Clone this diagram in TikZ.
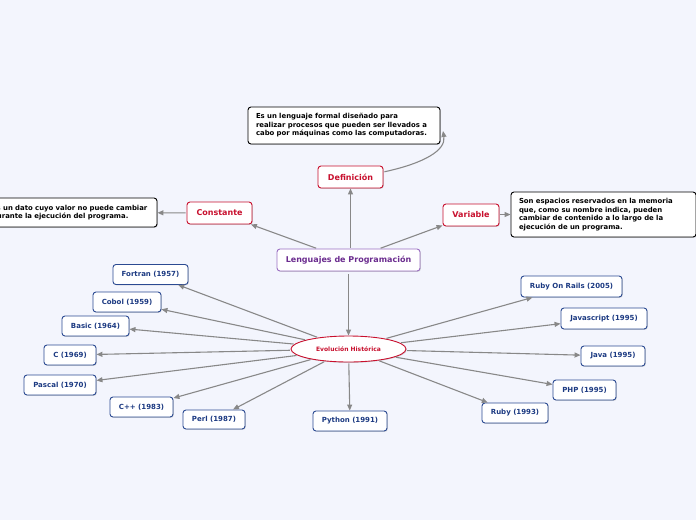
\documentclass[tikz,border=0pt]{standalone}
\usepackage{fontspec}
\setmainfont{DejaVu Sans}
\usetikzlibrary{arrows.meta,shapes.geometric,shadows}
\definecolor{bgc}{HTML}{F3F5FD}
\definecolor{redc}{HTML}{C8102E}
\definecolor{purc}{HTML}{6B2C8F}
\definecolor{purb}{HTML}{9B6FC2}
\definecolor{bluc}{HTML}{1C3A82}
\definecolor{blub}{HTML}{2B4A92}
\definecolor{linec}{HTML}{888888}
\tikzset{
  base/.style={draw, fill=white, rounded corners=3pt, line width=0.9pt, inner sep=0pt,
    drop shadow={shadow xshift=0.8pt, shadow yshift=-0.8pt, opacity=0.35}},
  item/.style={base, draw=blub, text=bluc, font=\bfseries\fontsize{7}{8}\selectfont, minimum height=20pt},
  topic/.style={base, draw=redc, text=redc, font=\bfseries\fontsize{8}{10}\selectfont, minimum height=22pt},
  central/.style={base, draw=purb, text=purc, font=\bfseries\fontsize{8}{10}\selectfont, minimum height=22pt},
  note/.style={base, draw=black, text=black, font=\bfseries\fontsize{6.9}{8.5}\selectfont, align=left, inner xsep=8pt},
  evo/.style={ellipse, draw=redc, fill=white, line width=0.9pt, text=redc, inner sep=0pt,
    font=\bfseries\fontsize{6}{7}\selectfont, minimum width=115pt, minimum height=26pt,
    drop shadow={shadow xshift=0.8pt, shadow yshift=-0.8pt, opacity=0.35}},
  conn/.style={draw=linec, line width=1.1pt, -{Triangle[length=6pt,width=5pt]}, shorten <=1pt},
}
\begin{document}
\begin{tikzpicture}[x=1pt,y=-1pt]
\useasboundingbox[fill=bgc] (0,0) rectangle (696,520);

\node[central, minimum width=143pt] (len) at (348.5,260) {Lenguajes de Programación};
\node[topic, minimum width=65pt] (def) at (350.5,177) {Definición};
\node[topic, minimum width=65pt] (con) at (219.5,213) {Constante};
\node[topic, minimum width=56pt] (var) at (471,215) {Variable};

\node[note, minimum width=192pt, minimum height=37pt, text width=176pt] (deft) at (344,125.5)
  {Es un lenguaje formal diseñado para\\realizar procesos que pueden ser llevados a\\cabo por máquinas como las computadoras.};
\node[note, minimum width=185pt, minimum height=45pt, text width=169pt] (vart) at (603.5,214.5)
  {Son espacios reservados en la memoria\\que, como su nombre indica, pueden\\cambiar de contenido a lo largo de la\\ejecución de un programa.};
\node[note, minimum width=173pt, minimum height=29pt, text width=157pt] (cont) at (70.5,212.5)
  {Es un dato cuyo valor no puede cambiar\\durante la ejecución del programa.};

\node[evo] (evo) at (348.5,349) {Evolución Histórica};

\node[item, minimum width=75pt] (fortran) at (150.5,274.5) {Fortran (1957)};
\node[item, minimum width=68pt] (cobol) at (127,302) {Cobol (1959)};
\node[item, minimum width=67pt] (basic) at (95.5,326) {Basic (1964)};
\node[item, minimum width=52pt] (c) at (70,355) {C (1969)};
\node[item, minimum width=72pt] (pascal) at (60,385) {Pascal (1970)};
\node[item, minimum width=63pt] (cpp) at (141.5,407) {C++ (1983)};
\node[item, minimum width=62pt, minimum height=19pt] (perl) at (214,419.5) {Perl (1987)};
\node[item, minimum width=74pt] (python) at (350,421) {Python (1991)};
\node[item, minimum width=66pt] (ruby) at (515,413) {Ruby (1993)};
\node[item, minimum width=63pt] (php) at (584.5,390) {PHP (1995)};
\node[item, minimum width=64pt] (java) at (613,356) {Java (1995)};
\node[item, minimum width=86pt, minimum height=21pt] (js) at (604,318.5) {Javascript (1995)};
\node[item, minimum width=101pt, minimum height=21pt] (ror) at (571.5,286.5) {Ruby On Rails (2005)};

\draw[conn] (len.north -| def.south) -- (def.south);
\draw[conn] (len) -- (con);
\draw[conn] (len) -- (var);
\draw[conn] (con) -- (cont);
\draw[conn] (var.east |- vart.west) -- (vart.west);
\draw[conn] (def.east) ++(0,-5) .. controls (425,163) and (446,150) .. (443,131);
\draw[conn, shorten <=3pt] (len.south) -- (evo.north);

\foreach \t in {fortran,cobol,basic,c,pascal,cpp,perl,python,ruby,php,java,js,ror}
  \draw[conn] (evo) -- (\t);
\end{tikzpicture}
\end{document}
